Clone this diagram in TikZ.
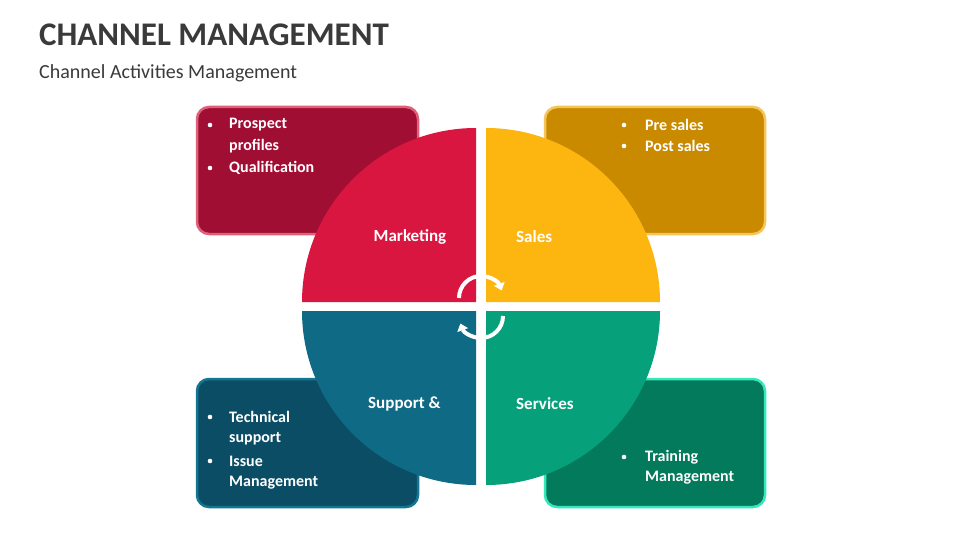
\documentclass[tikz,border=0pt]{standalone}
\usepackage{fontspec}
\setmainfont{Carlito}
\usetikzlibrary{arrows.meta}
\definecolor{mq}{HTML}{D9163F}\definecolor{mb}{HTML}{A00E33}\definecolor{mbd}{HTML}{E0607A}
\definecolor{sq}{HTML}{FDB50F}\definecolor{sb}{HTML}{C98A00}\definecolor{sbd}{HTML}{F5C45A}
\definecolor{pq}{HTML}{0F6A85}\definecolor{pb}{HTML}{0C4D66}\definecolor{pbd}{HTML}{127592}
\definecolor{vq}{HTML}{06A07A}\definecolor{vb}{HTML}{047A5C}\definecolor{vbd}{HTML}{35E8BA}
\definecolor{ttl}{HTML}{3A3A3A}
\tikzset{
  box/.style={line width=2.5pt,rounded corners=12pt},
  itm/.style={anchor=west,text=white,font=\fontsize{16}{19}\selectfont\bfseries,inner sep=0pt},
  lbl/.style={text=white,font=\fontsize{17}{20}\selectfont\bfseries,inner sep=0pt},
  cyc/.style={white,line width=4pt,-{Triangle[length=7pt,width=11pt]}}
}
\begin{document}
\begin{tikzpicture}[x=1pt,y=-1pt]
\useasboundingbox (0,0) rectangle (960,540);
\fill[white] (0,0) rectangle (960,540);
\node[anchor=west,text=ttl,font=\fontsize{33}{36}\selectfont\bfseries,inner sep=0pt] (title) at (39,35) {CHANNEL MANAGEMENT};
\node[anchor=west,text=ttl,font=\fontsize{20}{24}\selectfont,inner sep=0pt] (sub) at (39,73) {Channel Activities Management};
% boxes
\draw[box,fill=mb,draw=mbd] (197,107) rectangle (418,234);
\draw[box,fill=sb,draw=sbd] (545,107) rectangle (765,234);
\draw[box,fill=pb,draw=pbd] (197,379) rectangle (418,507);
\draw[box,fill=vb,draw=vbd] (545,379) rectangle (765,507);
% quadrants
\fill[mq] (476,302) -- ++(-174,0) arc[start angle=180,end angle=270,radius=174] -- cycle;
\fill[sq] (486,302) -- ++(0,-174) arc[start angle=270,end angle=360,radius=174] -- cycle;
\fill[pq] (476,311) -- ++(0,174) arc[start angle=90,end angle=180,radius=174] -- cycle;
\fill[vq] (486,311) -- ++(174,0) arc[start angle=0,end angle=90,radius=174] -- cycle;
% cycle arrows
\coordinate (c1) at (481,298);
\coordinate (c2) at (481,316);
\draw[cyc] ([shift={(180:22)}]c1) arc[start angle=180,end angle=340,radius=22];
\draw[cyc] ([shift={(0:22)}]c2) arc[start angle=0,end angle=160,radius=22];
% labels
\node[lbl] (mk) at (410,237) {Marketing};
\node[lbl,anchor=west] (sl) at (516,237) {Sales};
\node[lbl,anchor=west] (sp) at (368,404) {Support \&};
\node[lbl,anchor=west] (sv) at (516,404) {Services};
% items
\foreach \x/\y/\t [count=\i] in {229/125/Prospect,229/146/profiles,229/168/Qualification,
  645/125/Pre sales,645/146/Post sales,
  229/417/Technical,229/439/support,229/461/Issue,229/483/Management,
  645/457/Training,645/478/Management}
  \node[itm] (t\i) at (\x,\y) {\t};
\foreach \x/\y [count=\i] in {210/125,210/168,624/125,624/146,210/417,210/461,624/457}
  \fill[white] (\x,\y) circle (2.3pt) coordinate (b\i);
\end{tikzpicture}
\end{document}
